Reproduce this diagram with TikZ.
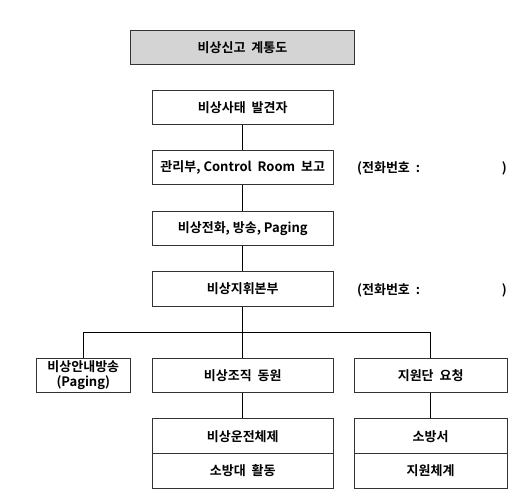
\documentclass[tikz,border=0pt]{standalone}
\usepackage{fontspec}
\setmainfont{Noto Sans CJK KR}[BoldFont={Noto Sans CJK KR Bold}]
\begin{document}
\begin{tikzpicture}[x=1pt,y=-1pt,
  box/.style={draw=black!80,line width=1pt,rectangle,inner sep=0pt,minimum width=181.5pt,minimum height=34.4pt,font=\bfseries\fontsize{13}{15}\selectfont,align=center},
  lbl/.style={inner sep=0pt,font=\bfseries\fontsize{13}{15}\selectfont},
  con/.style={draw=black,line width=0.9pt}]
\useasboundingbox (0,0) rectangle (531,501);
\node[box,fill=black!17,minimum width=224pt] (title) at (242.5,47.25) {비상신고\ \ 계통도};
\node[box] (b1) at (242.75,107.5) {비상사태\ \ 발견자};
\node[box] (b2) at (242.75,167.75) {관리부, Control\ \ Room\ \ 보고};
\node[box] (b3) at (242.75,228.25) {비상전화, 방송, Paging};
\node[box] (b4) at (242.75,288.85) {비상지휘본부};
\node[lbl,anchor=west] (p1) at (357,168) {(전화번호\ \ :};
\node[lbl,anchor=east] (q1) at (507,168) {)};
\node[lbl,anchor=west] (p2) at (357,290) {(전화번호\ \ :};
\node[lbl,anchor=east] (q2) at (507,290) {)};
\node[box,minimum width=94pt,font=\bfseries\fontsize{13}{15}\selectfont] (left) at (83.3,375.35) {비상안내방송\\(Paging)};
\node[box] (mid) at (242.75,375.35) {비상조직\ \ 동원};
\node[box,minimum width=152.7pt] (right) at (430.65,375.35) {지원단\ \ 요청};
\node[box] (m1) at (242.75,436.15) {비상운전체제};
\node[box] (m2) at (242.75,470.8) {소방대\ \ 활동};
\node[box,minimum width=152.7pt] (r1) at (430.65,436.15) {소방서};
\node[box,minimum width=152.7pt] (r2) at (430.65,470.8) {지원체계};
\coordinate (br) at (242.75,332.3);
\draw[con] (b1.south) -- (b2.north);
\draw[con] (b2.south) -- (b3.north);
\draw[con] (b3.south) -- (b4.north);
\draw[con] (b4.south) -- (mid.north);
\draw[con] (left.north) |- (br);
\draw[con] (right.north) |- (br);
\draw[con] (mid.south) -- (m1.north);
\draw[con] (right.south) -- (r1.north);
\end{tikzpicture}
\end{document}
